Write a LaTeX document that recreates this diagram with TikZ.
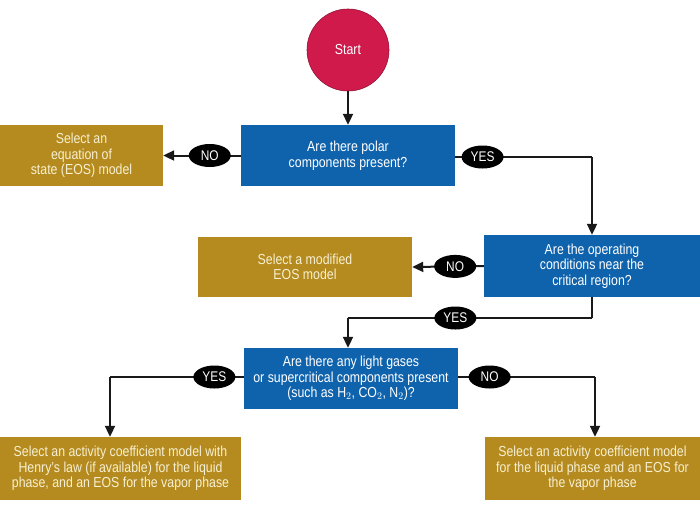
\documentclass[tikz,border=0pt]{standalone}
\usepackage{fontspec}
\setmainfont[FakeStretch=0.85]{Liberation Sans}
\usetikzlibrary{shapes.geometric,arrows.meta,positioning}
\definecolor{qblue}{HTML}{0F63AD}
\definecolor{agold}{HTML}{B58B1F}
\definecolor{sred}{HTML}{D01A4B}
\definecolor{cream}{HTML}{F7F0D2}
\begin{document}
\begin{tikzpicture}[x=1pt,y=-1pt,
  question/.style={fill=qblue,text=white,align=center,font=\fontsize{14.5}{15.5}\selectfont,inner sep=0pt},
  answer/.style={fill=agold,text=cream,align=center,font=\fontsize{14.5}{15.5}\selectfont,inner sep=0pt},
  tag/.style={ellipse,fill=black,text=white,font=\fontsize{14}{15}\selectfont,minimum width=42pt,minimum height=23pt,inner sep=0pt},
  flow/.style={line width=2pt,draw=black!90,-{Triangle[width=10pt,length=11pt]}},
  link/.style={line width=2pt,draw=black!90}]
\useasboundingbox (0,0) rectangle (700,504);
\fill[white] (0,0) rectangle (700,504);
% start
\node[circle,fill=sred,draw=sred!70!black,line width=0.6pt,minimum size=82pt,text=white,font=\fontsize{14.5}{16}\selectfont] (start) at (348,50) {Start};
% boxes
\node[question,minimum width=214pt,minimum height=61pt] (q1) at (348,155.5) {Are there polar\\components present?};
\node[answer,minimum width=163pt,minimum height=61pt] (a1) at (81.5,155.5) {Select an\\equation of\\state (EOS) model};
\node[question,minimum width=216pt,minimum height=62pt] (q2) at (592,266) {Are the operating\\conditions near the\\critical region?};
\node[answer,minimum width=214pt,minimum height=60pt] (a2) at (305,267) {Select a modified\\EOS model};
\node[question,minimum width=214pt,minimum height=61pt] (q3) at (351,378.5) {Are there any light gases\\or supercritical components present\\(such as H$_2$, CO$_2$, N$_2$)?};
\node[answer,minimum width=241pt,minimum height=63pt] (a3) at (120.5,468.5) {Select an activity coefficient model with\\Henry's law (if available) for the liquid\\phase, and an EOS for the vapor phase};
\node[answer,minimum width=215pt,minimum height=63pt] (a4) at (592.5,468.5) {Select an activity coefficient model\\for the liquid phase and an EOS for\\the vapor phase};
% coordinates
\coordinate (c1) at (592,157);
\coordinate (c2a) at (592,318);
\coordinate (c2b) at (348,318);
\coordinate (c3l) at (110,377);
\coordinate (c3r) at (595,377);
% connectors
\draw[flow] (start.south) -- (q1.north);
\draw[flow] (q1.west) -- (a1.east) node[tag,pos=0.4] (no1) {NO};
\draw[link] (q1.east |- c1) -- (c1) node[tag,pos=0.2] (yes1) {YES};
\draw[flow] (c1) -- (q2.north);
\draw[flow] (q2.west) -- (a2.east) node[tag,pos=0.4] (no2) {NO};
\draw[link] (q2.south) -- (c2a);
\draw[link] (c2a) -- (c2b) node[tag,pos=0.56] (yes2) {YES};
\draw[flow] (c2b) -- (c2b |- q3.north);
\draw[link] (q3.west |- c3l) -- (c3l) node[tag,pos=0.22] (yes3) {YES};
\draw[flow] (c3l) -- (c3l |- a3.north);
\draw[link] (q3.east |- c3r) -- (c3r) node[tag,pos=0.23] (no3) {NO};
\draw[flow] (c3r) -- (c3r |- a4.north);
\end{tikzpicture}
\end{document}
